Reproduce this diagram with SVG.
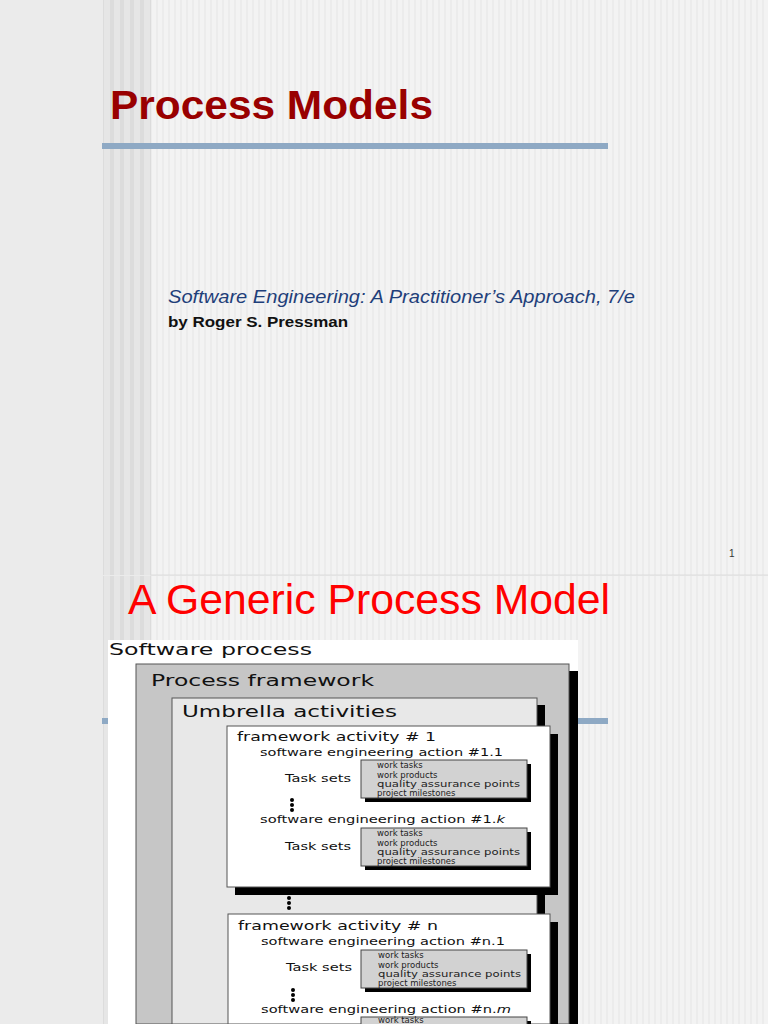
<svg xmlns="http://www.w3.org/2000/svg" width="768" height="1024" viewBox="0 0 768 1024">
<defs>
<pattern id="str" width="6" height="10" patternUnits="userSpaceOnUse"><rect width="6" height="10" fill="#f3f3f3"/><rect width="2" height="10" fill="#ececec"/></pattern>
<pattern id="lstr" width="10" height="10" patternUnits="userSpaceOnUse"><rect width="10" height="10" fill="#e6e6e6"/><rect width="4" height="10" fill="#dcdcdc"/></pattern>
</defs>
<style>
.d{font-family:"DejaVu Sans",sans-serif;fill:#111}
.t{font-family:"DejaVu Sans",sans-serif;font-size:8.5px;fill:#222}
.sh{fill:#000}
.task{fill:#d2d2d2;stroke:#444;stroke-width:1}
</style>
<rect width="768" height="1024" fill="#ebebeb"/>
<rect x="103" y="0" width="665" height="575" fill="url(#str)"/>
<rect x="103" y="0" width="48" height="575" fill="url(#lstr)"/>
<rect x="103" y="576" width="665" height="448" fill="url(#str)"/>
<rect x="103" y="576" width="48" height="448" fill="url(#lstr)"/>
<line x1="150" y1="575" x2="768" y2="575" stroke="#dcdcdc"/>
<text x="110" y="119" font-family="Liberation Sans,sans-serif" font-weight="bold" font-size="40" fill="#990000" textLength="323" lengthAdjust="spacingAndGlyphs">Process Models</text>
<rect x="102" y="143" width="506" height="6" fill="#8ea9c4"/>
<text x="168" y="303" font-family="Liberation Sans,sans-serif" font-style="italic" font-size="19" fill="#1f3f7a" textLength="467" lengthAdjust="spacingAndGlyphs">Software Engineering: A Practitioner’s Approach, 7/e</text>
<text x="168" y="327" font-family="Liberation Sans,sans-serif" font-weight="bold" font-size="15" fill="#111" textLength="180" lengthAdjust="spacingAndGlyphs">by Roger S. Pressman</text>
<text x="729" y="557" font-family="Liberation Sans,sans-serif" font-size="10" fill="#333">1</text>
<rect x="102" y="718" width="506" height="6" fill="#8ea9c4"/>
<text x="128" y="614" font-family="Liberation Sans,sans-serif" font-size="42" fill="#ff0000" textLength="482" lengthAdjust="spacingAndGlyphs">A Generic Process Model</text>
<g id="software-process">
<rect x="108" y="640" width="470" height="384" fill="#fff"/>
<text class="d" x="109" y="655" font-size="15" textLength="203" lengthAdjust="spacingAndGlyphs">Software process</text>
</g>
<g id="process-framework">
<rect class="sh" x="145" y="671" width="433" height="353"/>
<rect x="136" y="664" width="433" height="360" fill="#c6c6c6" stroke="#555"/>
<text class="d" x="151" y="686" font-size="15" textLength="223" lengthAdjust="spacingAndGlyphs">Process framework</text>
</g>
<g id="umbrella">
<rect class="sh" x="181" y="705" width="364" height="319"/>
<rect x="172" y="698" width="365" height="326" fill="#e8e8e8" stroke="#555"/>
<text class="d" x="182" y="717" font-size="16" textLength="215" lengthAdjust="spacingAndGlyphs">Umbrella activities</text>
</g>
<g id="fa1">
<rect class="sh" x="235" y="734" width="323" height="161"/>
<rect x="227" y="726" width="323" height="161" fill="#fff" stroke="#555"/>
<text class="d" x="237" y="741" font-size="12.5" textLength="199" lengthAdjust="spacingAndGlyphs">framework activity # 1</text>
<text class="d" x="260" y="756" font-size="11" textLength="243" lengthAdjust="spacingAndGlyphs">software engineering action #1.1</text>
<text class="d" x="285" y="782" font-size="10" textLength="66" lengthAdjust="spacingAndGlyphs">Task sets</text>
<rect class="sh" x="365" y="764" width="166" height="38"/>
<rect class="task" x="361" y="760" width="166" height="38"/>
<text class="t" x="377" y="768">work tasks</text><text class="t" x="377" y="778">work products</text><text class="t" x="377" y="787" textLength="143" lengthAdjust="spacingAndGlyphs">quality assurance points</text><text class="t" x="377" y="796">project milestones</text>
<circle cx="292" cy="800" r="2"/><circle cx="292" cy="805" r="2"/><circle cx="292" cy="810" r="2"/>
<text class="d" x="260" y="823" font-size="11" textLength="245" lengthAdjust="spacingAndGlyphs">software engineering action #1.<tspan font-style="italic">k</tspan></text>
<text class="d" x="285" y="850" font-size="10" textLength="66" lengthAdjust="spacingAndGlyphs">Task sets</text>
<rect class="sh" x="365" y="832" width="166" height="38"/>
<rect class="task" x="361" y="828" width="166" height="38"/>
<text class="t" x="377" y="836">work tasks</text><text class="t" x="377" y="846">work products</text><text class="t" x="377" y="855" textLength="143" lengthAdjust="spacingAndGlyphs">quality assurance points</text><text class="t" x="377" y="864">project milestones</text>
</g>
<circle cx="289" cy="898" r="2"/><circle cx="289" cy="903" r="2"/><circle cx="289" cy="908" r="2"/>
<g id="fan">
<rect class="sh" x="236" y="922" width="322" height="102"/>
<rect x="228" y="914" width="322" height="110" fill="#fff" stroke="#555"/>
<text class="d" x="238" y="930" font-size="12.5" textLength="200" lengthAdjust="spacingAndGlyphs">framework activity # n</text>
<text class="d" x="261" y="945" font-size="11" textLength="244" lengthAdjust="spacingAndGlyphs">software engineering action #n.1</text>
<text class="d" x="286" y="971" font-size="10" textLength="66" lengthAdjust="spacingAndGlyphs">Task sets</text>
<rect class="sh" x="365" y="954" width="166" height="38"/>
<rect class="task" x="361" y="950" width="166" height="38"/>
<text class="t" x="378" y="958">work tasks</text><text class="t" x="378" y="968">work products</text><text class="t" x="378" y="977" textLength="143" lengthAdjust="spacingAndGlyphs">quality assurance points</text><text class="t" x="378" y="986">project milestones</text>
<circle cx="293" cy="990" r="2"/><circle cx="293" cy="995" r="2"/><circle cx="293" cy="1000" r="2"/>
<text class="d" x="261" y="1013" font-size="11" textLength="250" lengthAdjust="spacingAndGlyphs">software engineering action #n.<tspan font-style="italic">m</tspan></text>
<rect class="sh" x="365" y="1021" width="166" height="10"/>
<rect class="task" x="361" y="1017" width="166" height="20"/>
<text class="t" x="378" y="1023" font-size="7">work tasks</text>
</g>
</svg>
